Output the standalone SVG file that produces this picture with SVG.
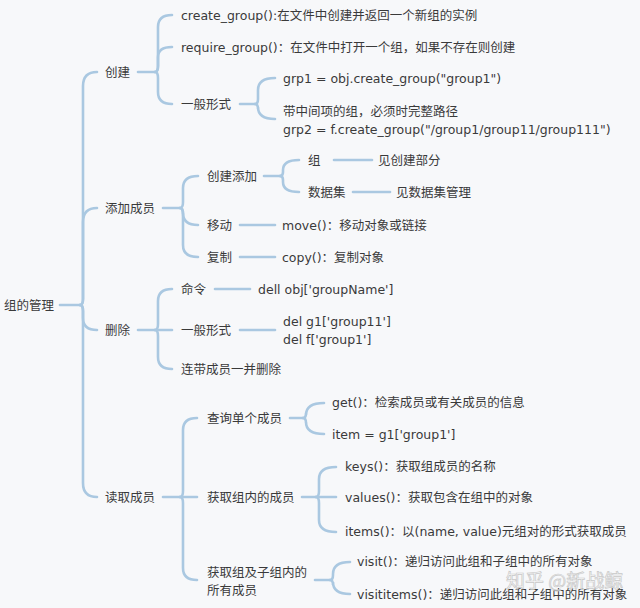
<svg xmlns="http://www.w3.org/2000/svg" width="640" height="608" viewBox="0 0 640 608">
<style>
.t{font-family:"DejaVu Sans","Noto Sans CJK SC",sans-serif;font-size:12.5px;fill:#3a3a3a;}
.c path{fill:none;stroke:#aac8e1;stroke-width:2.6;stroke-linecap:round;}
.wm{font-family:"Noto Sans CJK SC",sans-serif;font-size:19px;fill:#ffffff;fill-opacity:0.4;stroke:#c8c8c8;stroke-width:0.7;}
</style>
<rect width="640" height="608" fill="#f7f8fa"/>
<g class="c" id="connectors">
<path d="M60 305 L80 305"/>
<path d="M80 305 Q83 305 83 299 L83 86 Q83 72 97 72"/>
<path d="M80 305 Q83 305 83 299 L83 222 Q83 208 97 208"/>
<path d="M80 305 Q83 305 83 311 L83 318 Q83 330 97 330"/>
<path d="M80 305 Q83 305 83 311 L83 483 Q83 497 97 497"/>
<path d="M138 72 L155 72"/>
<path d="M155 72 Q158 72 158 66 L158 27 Q158 15 172 15"/>
<path d="M155 72 Q158 72 158 66 L158 57 Q158 47 172 47"/>
<path d="M155 72 Q158 72 158 78 L158 92 Q158 104 172 104"/>
<path d="M240 104 L255 104"/>
<path d="M255 104 Q258 104 258 99 L258 90 Q258 78 275 78"/>
<path d="M255 104 Q258 104 258 109 L258 107 Q258 119 275 119"/>
<path d="M163 208 L180 208"/>
<path d="M180 208 Q183 208 183 202 L183 188 Q183 176 198 176"/>
<path d="M180 208 Q183 208 183 214 L183 213 Q183 225 198 225"/>
<path d="M180 208 Q183 208 183 214 L183 245 Q183 257 198 257"/>
<path d="M264 176 L280 176"/>
<path d="M280 176 Q283 176 283 172 L283 170 Q283 160 299 160"/>
<path d="M280 176 Q283 176 283 180 L283 182 Q283 192 299 192"/>
<path d="M334 160 L372 160"/>
<path d="M353 192 L390 192"/>
<path d="M240 225 L275 225"/>
<path d="M240 257 L275 257"/>
<path d="M138 330 L155 330"/>
<path d="M155 330 Q158 330 158 324 L158 301 Q158 289 172 289"/>
<path d="M155 330 L172 330"/>
<path d="M155 330 Q158 330 158 336 L158 357 Q158 369 172 369"/>
<path d="M215 289 L250 289"/>
<path d="M240 330 L275 330"/>
<path d="M163 497 L180 497"/>
<path d="M180 497 Q183 497 183 491 L183 430 Q183 418 197 418"/>
<path d="M180 497 L197 497"/>
<path d="M180 497 Q183 497 183 503 L183 568 Q183 580 197 580"/>
<path d="M290 418 L303 418"/>
<path d="M303 418 Q306 418 306 413 L306 415 Q306 403 324 403"/>
<path d="M303 418 Q306 418 306 423 L306 422 Q306 434 324 434"/>
<path d="M302 497 L316 497"/>
<path d="M316 497 Q319 497 319 491 L319 479 Q319 467 336 467"/>
<path d="M316 497 L336 497"/>
<path d="M316 497 Q319 497 319 503 L319 520 Q319 532 336 532"/>
<path d="M315 580 L330 580"/>
<path d="M330 580 Q333 580 333 575 L333 574 Q333 562 350 562"/>
<path d="M330 580 Q333 580 333 585 L333 582 Q333 594 350 594"/>
</g>
<g id="n-root"><text class="t" x="4" y="309.5">组的管理</text></g>
<g id="n-create"><text class="t" x="105" y="76.5">创建</text></g>
<g id="n-create-group"><text class="t" x="181" y="19.5">create_group():在文件中创建并返回一个新组的实例</text></g>
<g id="n-require-group"><text class="t" x="181" y="51.5">require_group()：在文件中打开一个组，如果不存在则创建</text></g>
<g id="n-general1"><text class="t" x="181" y="108.5">一般形式</text></g>
<g id="n-grp1"><text class="t" x="283" y="82.5">grp1 = obj.create_group("group1")</text></g>
<g id="n-grp2"><text class="t" x="283" y="115.5">带中间项的组，必须时完整路径</text><text class="t" x="283" y="133.5">grp2 = f.create_group("/group1/group11/group111")</text></g>
<g id="n-add"><text class="t" x="105" y="212.5">添加成员</text></g>
<g id="n-create-add"><text class="t" x="207" y="180.5">创建添加</text></g>
<g id="n-group"><text class="t" x="308" y="164.5">组</text></g>
<g id="n-see-create"><text class="t" x="378" y="164.5">见创建部分</text></g>
<g id="n-dataset"><text class="t" x="308" y="196.5">数据集</text></g>
<g id="n-see-dataset"><text class="t" x="396" y="196.5">见数据集管理</text></g>
<g id="n-move"><text class="t" x="207" y="229.5">移动</text></g>
<g id="n-move-fn"><text class="t" x="282" y="229.5">move()：移动对象或链接</text></g>
<g id="n-copy"><text class="t" x="207" y="261.5">复制</text></g>
<g id="n-copy-fn"><text class="t" x="282" y="261.5">copy()：复制对象</text></g>
<g id="n-delete"><text class="t" x="105" y="334.5">删除</text></g>
<g id="n-command"><text class="t" x="181" y="293.5">命令</text></g>
<g id="n-dell"><text class="t" x="258" y="293.5">dell obj['groupName']</text></g>
<g id="n-general2"><text class="t" x="181" y="334.5">一般形式</text></g>
<g id="n-del"><text class="t" x="283" y="325.5">del g1['group11']</text><text class="t" x="283" y="343.5">del f['group1']</text></g>
<g id="n-del-all"><text class="t" x="181" y="373.5">连带成员一并删除</text></g>
<g id="n-read"><text class="t" x="105" y="501.5">读取成员</text></g>
<g id="n-query"><text class="t" x="207" y="422.5">查询单个成员</text></g>
<g id="n-get"><text class="t" x="332" y="406.5">get()：检索成员或有关成员的信息</text></g>
<g id="n-item"><text class="t" x="332" y="438.5">item = g1['group1']</text></g>
<g id="n-members"><text class="t" x="207" y="501.5">获取组内的成员</text></g>
<g id="n-keys"><text class="t" x="345" y="470.5">keys()：获取组成员的名称</text></g>
<g id="n-values"><text class="t" x="345" y="501.5">values()：获取包含在组中的对象</text></g>
<g id="n-items"><text class="t" x="345" y="535.5">items()：以(name, value)元组对的形式获取成员</text></g>
<g id="n-all"><text class="t" x="207" y="576.5">获取组及子组内的</text><text class="t" x="207" y="594.5">所有成员</text></g>
<g id="n-visit"><text class="t" x="357" y="565.5">visit()：递归访问此组和子组中的所有对象</text></g>
<g id="n-visititems"><text class="t" x="357" y="598.5">visititems()：递归访问此组和子组中的所有对象</text></g>
<text class="wm" x="506" y="588">知乎 @新战鲸</text>
</svg>
